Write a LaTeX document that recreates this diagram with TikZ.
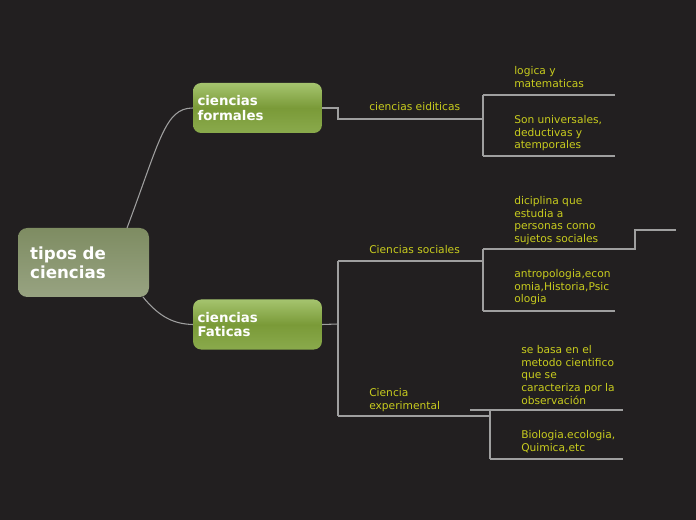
\documentclass[tikz,border=0pt]{standalone}
\usepackage{fontspec}
\setmainfont{DejaVu Sans}
\begin{document}
\begin{tikzpicture}[x=0.75pt,y=-0.75pt,
  ln/.style={draw=gray!75,line width=0.8pt},
  lbl/.style={anchor=north west,inner sep=0pt,text=yt,font=\fontsize{8}{9.6}\selectfont,align=left},
  sub/.style={draw=none,rounded corners=6pt,top color=gb1,bottom color=gb2,middle color=gb3,minimum width=121*0.75pt,minimum height=50*0.75pt,text width=90pt,align=left,text=white,font=\fontsize{10}{11}\selectfont\bfseries}]
\definecolor{bg}{HTML}{221F20}
\definecolor{yt}{HTML}{C8CC1E}
\definecolor{gb1}{HTML}{A5C46E}
\definecolor{gb3}{HTML}{7A9A38}
\definecolor{gb2}{HTML}{8AAA4C}
\definecolor{rt1}{HTML}{7E8C62}
\definecolor{rt2}{HTML}{45591F}
\fill[bg] (0,0) rectangle (696,520);
\useasboundingbox (0,0) rectangle (696,520);
\node[rounded corners=7pt,top color=rt1,middle color=rt2,bottom color=rt1!80,minimum width=131*0.75pt,minimum height=69*0.75pt,text width=80pt,align=left,text=white,font=\fontsize{12.5}{14.5}\selectfont\bfseries] (root) at (83.5,262.5) {tipos de\\ciencias};
\node[sub] (form) at (257.5,108) {ciencias\\formales};
\node[sub] (fat) at (257.5,324.5) {ciencias\\Faticas};
\draw[ln] (127,228) .. controls (160,140) and (165,108) .. (form.west);
\draw[ln] (143,297) .. controls (160,318) and (175,324) .. (fat.west);
% formales branch
\coordinate (f1) at (338,108);
\draw[ln] (form.east) -- (f1) |- (483,119);
\draw[ln] (483,95) -- (483,156);
\draw[ln] (483,95) -- (615,95);
\draw[ln] (483,156) -- (615,156);
\node[lbl] (eid) at (369,102) {ciencias eiditicas};
\node[lbl] (log) at (514,66) {logica y\\matematicas};
\node[lbl] (son) at (514,115) {Son universales,\\deductivas y\\atemporales};
% faticas branch
\coordinate (g1) at (338,324);
\draw[ln] (fat.east) -- (g1);
\draw[ln] (338,261) -- (338,416);
\draw[ln] (338,261) -- (483,261);
\draw[ln] (483,249) -- (483,311);
\draw[ln] (483,249) -- (635,249) -- (635,230) -- (676,230);
\draw[ln] (483,311) -- (615,311);
\draw[ln] (338,416) -- (490,416);
\draw[ln] (490,410) -- (490,459);
\draw[ln] (470,410) -- (623,410);
\draw[ln] (490,459) -- (623,459);
\node[lbl] (soc) at (369,245.5) {Ciencias sociales};
\node[lbl] (dic) at (514,196) {diciplina que\\estudia a\\personas como\\sujetos sociales};
\node[lbl] (ant) at (514,269) {antropologia,econ\\omia,Historia,Psic\\ologia};
\node[lbl] (exp) at (369,388) {Ciencia\\experimental};
\node[lbl] (bas) at (521,345) {se basa en el\\metodo cientifico\\que se\\caracteriza por la\\observación};
\node[lbl] (bio) at (521,430) {Biologia.ecologia,\\Quimica,etc};
\end{tikzpicture}
\end{document}
